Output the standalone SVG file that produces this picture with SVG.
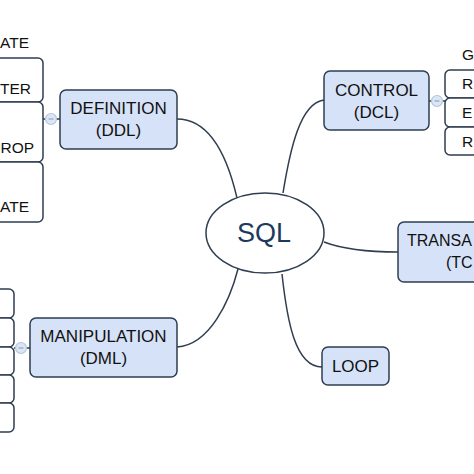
<svg xmlns="http://www.w3.org/2000/svg" width="474" height="474" viewBox="0 0 474 474">
<style>
.topic{fill:#d6e2f7;stroke:#2f3e50;stroke-width:1.5}
.sub{fill:#ffffff;stroke:#2f3e50;stroke-width:1.5}
.lbl{font-family:"Liberation Sans",Arial,sans-serif;font-size:17px;fill:#111;text-anchor:middle}
.sl{font-family:"Liberation Sans",Arial,sans-serif;font-size:15.5px;fill:#111}
.conn{fill:none;stroke:#2f3e50;stroke-width:1.5}
.tog{fill:#dbe5f4;stroke:#b3c5de;stroke-width:1.2}
.dash{stroke:#8ea5c3;stroke-width:1.2}
</style>
<rect width="474" height="474" fill="#ffffff"/>
<g id="connectors">
<path class="conn" d="M177,119 C215,119 230,168 237,198"/>
<path class="conn" d="M324,100 C300,103 290,150 283,193"/>
<path class="conn" d="M324,242 C345,250 370,252 398,252"/>
<path class="conn" d="M282,274 C287,320 295,367 322,367"/>
<path class="conn" d="M177,347 C210,345 230,300 238,269"/>
<line class="conn" x1="43" y1="119" x2="60" y2="119"/>
<line class="conn" x1="14" y1="348" x2="30" y2="348"/>
<line class="conn" x1="429" y1="101" x2="445" y2="101"/>
</g>
<g id="sql">
<ellipse cx="265" cy="233" rx="59" ry="40" fill="#ffffff" stroke="#2f3e50" stroke-width="1.5"/>
<text x="264" y="242" font-family="'Liberation Sans',Arial,sans-serif" font-size="27" fill="#1c3a5e" text-anchor="middle">SQL</text>
</g>
<g id="ddl">
<rect class="topic" x="60" y="90" width="117" height="59" rx="6"/>
<text class="lbl" x="118.5" y="114">DEFINITION</text>
<text class="lbl" x="118.5" y="136">(DDL)</text>
</g>
<g id="ddl-children">
<text class="sl" x="0" y="48">ATE</text>
<rect class="sub" x="-20" y="58" width="63" height="44" rx="5"/>
<text class="sl" x="0" y="94">TER</text>
<rect class="sub" x="-20" y="102" width="63" height="60" rx="5"/>
<text class="sl" x="0.5" y="153">ROP</text>
<rect class="sub" x="-20" y="162" width="63" height="60" rx="5"/>
<text class="sl" x="0" y="212">ATE</text>
</g>
<g id="ddl-toggle">
<circle class="tog" cx="51" cy="119" r="5.5"/>
<line class="dash" x1="48.5" y1="119" x2="53.5" y2="119"/>
</g>
<g id="dcl">
<rect class="topic" x="324" y="71" width="105" height="59" rx="6"/>
<text class="lbl" x="376.5" y="96">CONTROL</text>
<text class="lbl" x="376.5" y="118">(DCL)</text>
</g>
<g id="dcl-children">
<text class="sl" x="462" y="60">G</text>
<rect class="sub" x="445" y="70" width="50" height="28" rx="5"/>
<text class="sl" x="462" y="89">R</text>
<rect class="sub" x="445" y="98" width="50" height="29" rx="5"/>
<text class="sl" x="462" y="118">E</text>
<rect class="sub" x="445" y="127" width="50" height="28" rx="5"/>
<text class="sl" x="462" y="147">R</text>
</g>
<g id="dcl-toggle">
<circle class="tog" cx="437" cy="101" r="5.5"/>
<line class="dash" x1="434.5" y1="101" x2="439.5" y2="101"/>
</g>
<g id="tcl">
<rect class="topic" x="398" y="222" width="146" height="60" rx="6"/>
<text class="sl" x="407" y="246" style="font-size:16px">TRANSA</text>
<text class="sl" x="446" y="268" style="font-size:16px">(TC</text>
</g>
<g id="loop">
<rect class="topic" x="322" y="347" width="67" height="38" rx="6"/>
<text class="lbl" x="355.5" y="372">LOOP</text>
</g>
<g id="dml">
<rect class="topic" x="30" y="318" width="147" height="59" rx="6"/>
<text class="lbl" x="103.5" y="342">MANIPULATION</text>
<text class="lbl" x="103.5" y="364">(DML)</text>
</g>
<g id="dml-children">
<rect class="sub" x="-30" y="289" width="44" height="29" rx="5"/>
<rect class="sub" x="-30" y="318" width="44" height="29" rx="5"/>
<rect class="sub" x="-30" y="347" width="44" height="28" rx="5"/>
<rect class="sub" x="-30" y="375" width="44" height="28" rx="5"/>
<rect class="sub" x="-30" y="403" width="44" height="29" rx="5"/>
</g>
<g id="dml-toggle">
<circle class="tog" cx="21" cy="348" r="5.5"/>
<line class="dash" x1="18.5" y1="348" x2="23.5" y2="348"/>
</g>
</svg>
